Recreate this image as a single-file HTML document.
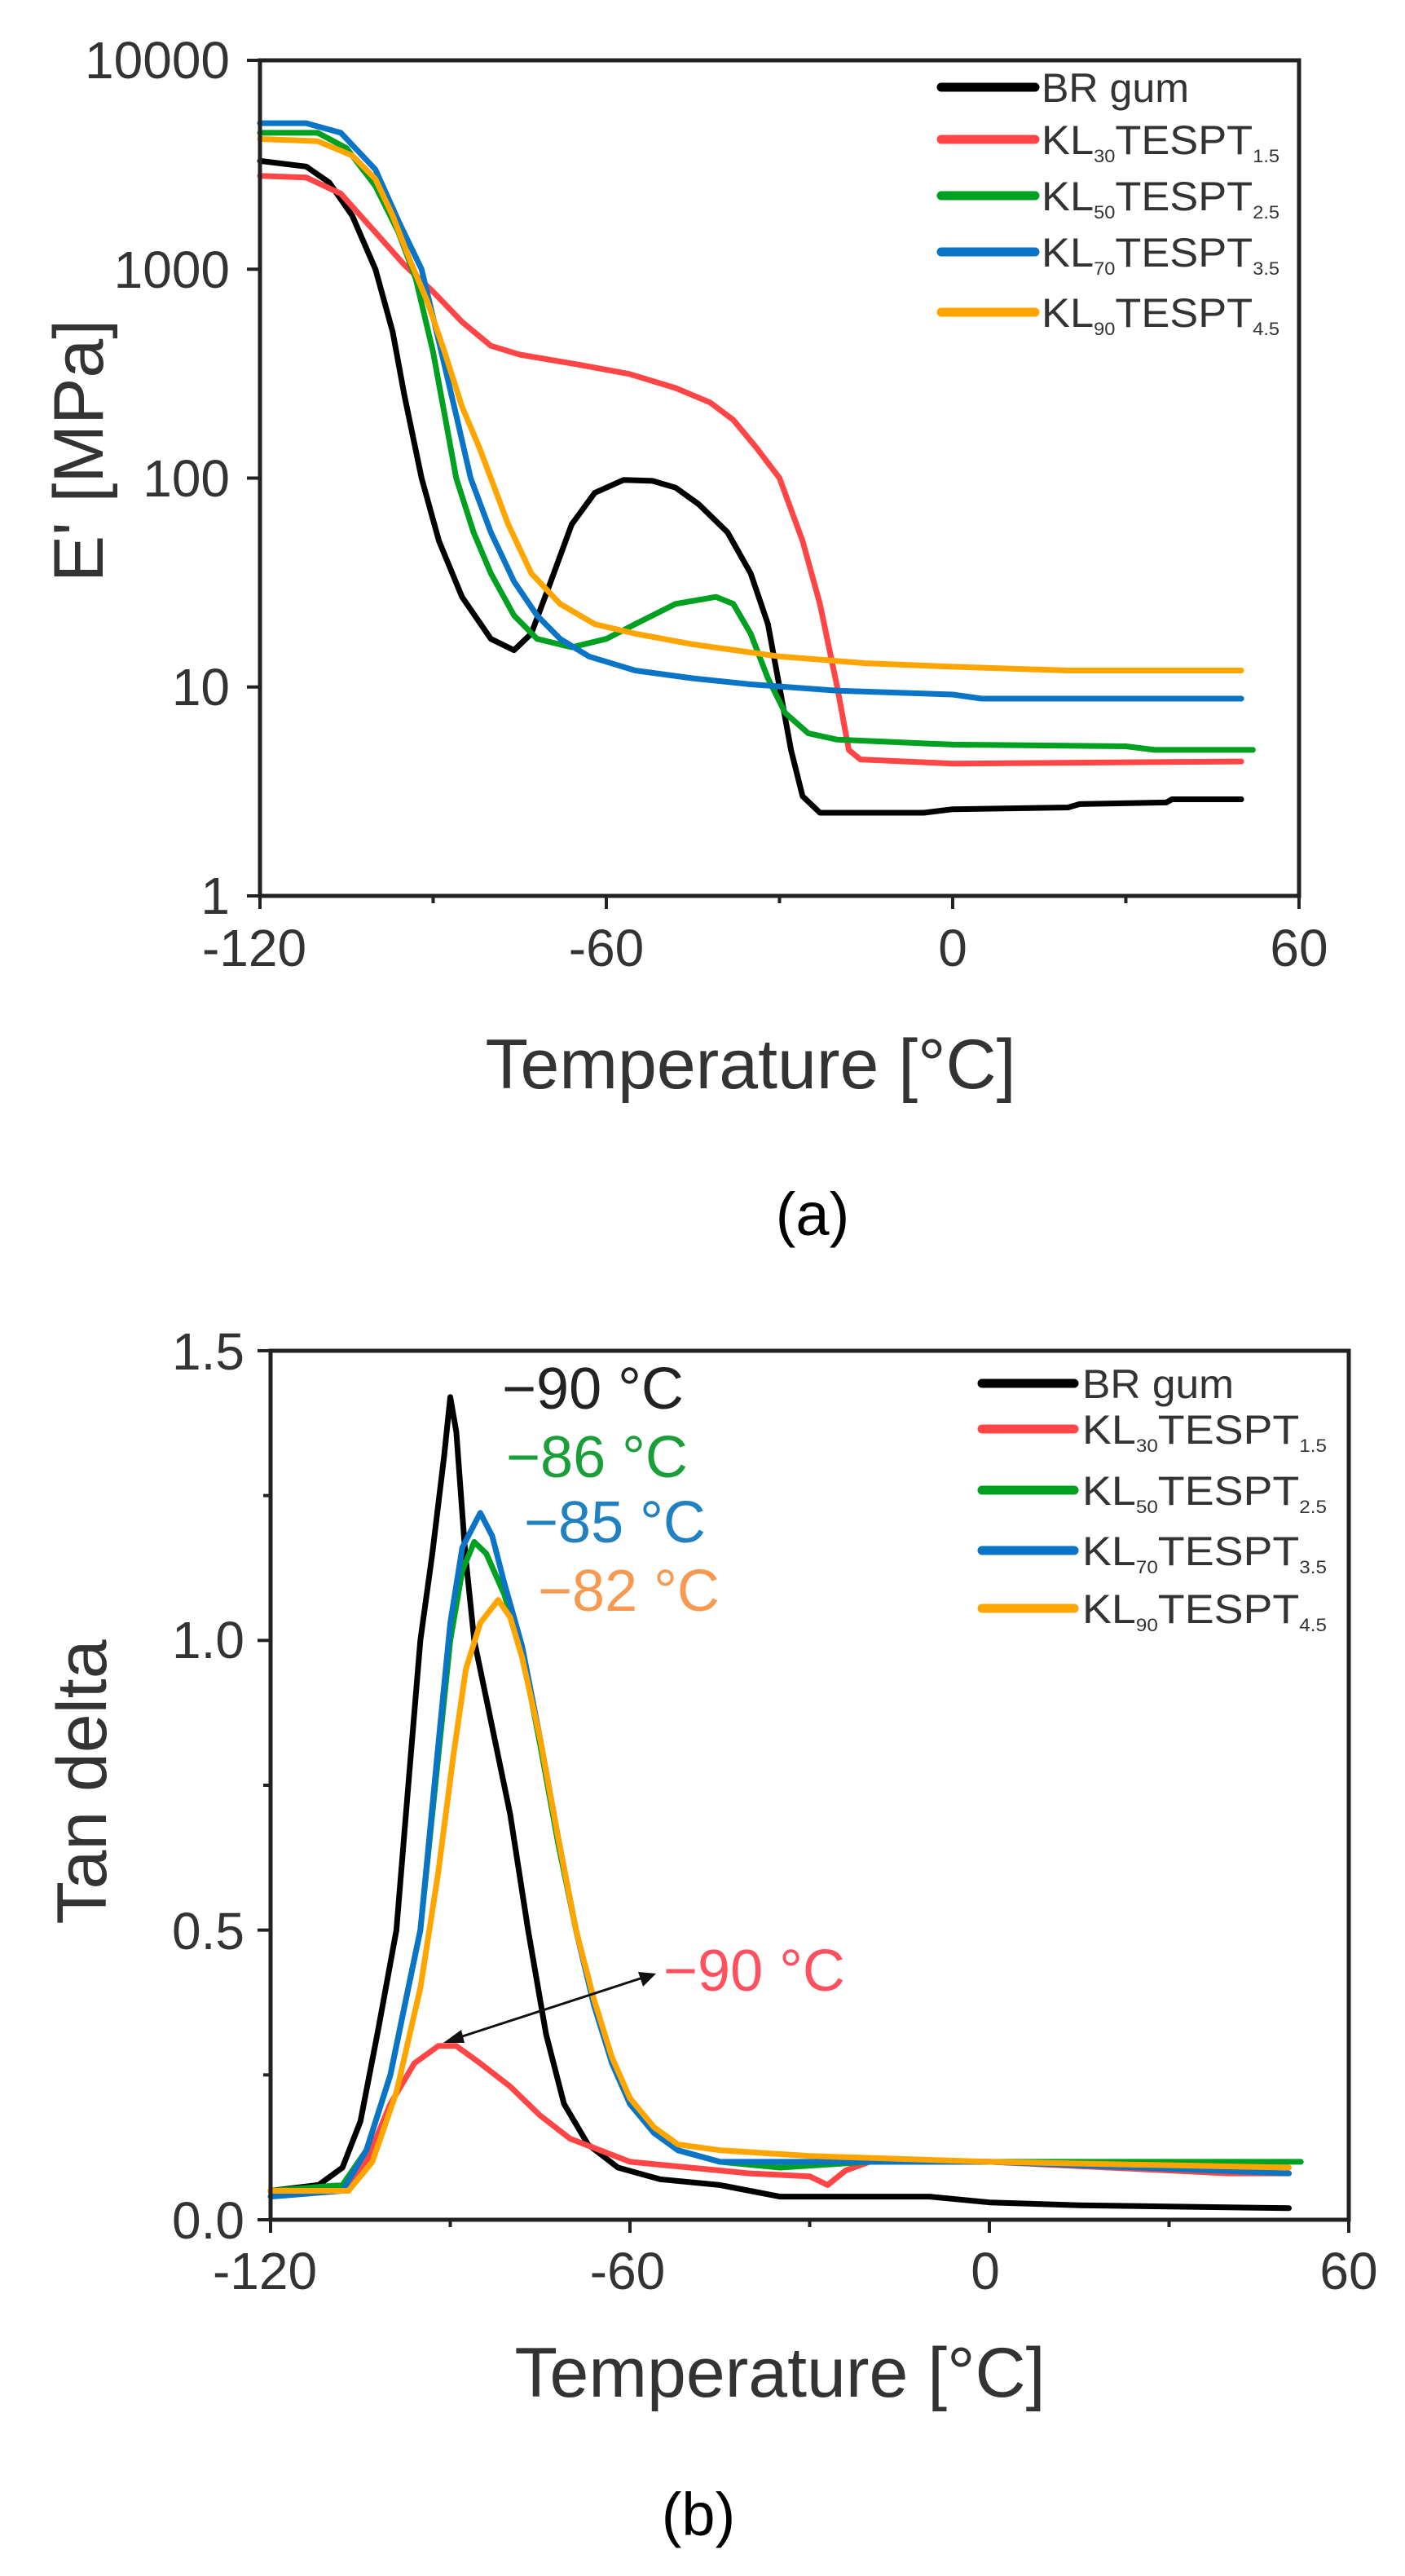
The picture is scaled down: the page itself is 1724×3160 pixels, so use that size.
<!DOCTYPE html>
<html><head><meta charset="utf-8">
<style>
html,body{margin:0;padding:0;background:#fff;}
svg{display:block;}
text{font-family:"Liberation Sans",Arial,sans-serif;}
</style></head>
<body>
<svg id="s" width="1724" height="3160" viewBox="0 0 1724 3160" xmlns="http://www.w3.org/2000/svg">
<rect width="1724" height="3160" fill="#fff"/>
<g id="ga"></g>
<g id="gb"></g>
<rect x="319" y="74" width="1275" height="1025" fill="none" stroke="#222" stroke-width="5"/>
<g fill="#333" font-size="64" text-anchor="end">
<text x="282" y="96">10000</text>
<text x="282" y="353">1000</text>
<text x="282" y="609">100</text>
<text x="282" y="865">10</text>
<text x="282" y="1121">1</text>
</g>
<g fill="#333" font-size="64" text-anchor="middle">
<text x="312" y="1185">-120</text>
<text x="744" y="1185">-60</text>
<text x="1169" y="1185">0</text>
<text x="1594" y="1185">60</text>
</g>
<text x="921" y="1335" font-size="86" fill="#333" text-anchor="middle">Temperature [°C]</text>
<text transform="translate(126,553) rotate(-90)" font-size="86" fill="#333" text-anchor="middle">E' [MPa]</text>
<text x="997" y="1515" font-size="74" font-family="Liberation Serif,serif" text-anchor="middle">(a)</text>

<rect x="332" y="1657" width="1323" height="1066" fill="none" stroke="#222" stroke-width="5"/>
<g fill="#333" font-size="64" text-anchor="end">
<text x="300" y="1680">1.5</text>
<text x="300" y="2034">1.0</text>
<text x="300" y="2391">0.5</text>
<text x="300" y="2746">0.0</text>
</g>
<g fill="#333" font-size="64" text-anchor="middle">
<text x="325" y="2808">-120</text>
<text x="770" y="2808">-60</text>
<text x="1209" y="2808">0</text>
<text x="1655" y="2808">60</text>
</g>
<text x="957" y="2940" font-size="86" fill="#333" text-anchor="middle">Temperature [°C]</text>
<text transform="translate(130,2186) rotate(-90)" font-size="86" fill="#333" text-anchor="middle">Tan delta</text>
<text x="857" y="3110" font-size="74" font-family="Liberation Serif,serif" text-anchor="middle">(b)</text>

<g font-size="72" text-anchor="start">
<text x="616" y="1728" fill="#222">−90 °C</text>
<text x="621" y="1812" fill="#1a9e3a">−86 °C</text>
<text x="643" y="1892" fill="#2080c0">−85 °C</text>
<text x="660" y="1976" fill="#f59a50">−82 °C</text>
<text x="814" y="2442" fill="#ff5060">−90 °C</text>
</g>
<line x1="552" y1="2503" x2="795" y2="2424" stroke="#111" stroke-width="3"/>
<polygon points="544,2506 566,2490 570,2506" fill="#111"/>
<polygon points="805,2421 783,2419 789,2437" fill="#111"/>
</svg>
<script>
var NS="http://www.w3.org/2000/svg";
function path(g,pts,fx,fy,col,w){var d="";for(var i=0;i<pts.length;i+=2){d+=(i?"L":"M")+fx(pts[i]).toFixed(1)+","+fy(pts[i+1]).toFixed(1);}
var p=document.createElementNS(NS,"path");p.setAttribute("d",d);p.setAttribute("fill","none");p.setAttribute("stroke",col);p.setAttribute("stroke-width",w);p.setAttribute("stroke-linejoin","round");p.setAttribute("stroke-linecap","round");g.appendChild(p);}
var ax=function(T){return 319+7.083*(T+120)}, ay=function(E){return 1099-256.25*Math.log10(E)};
var bx=function(T){return 332+7.35*(T+120)}, by=function(v){return 2723-710.7*v};
var C={k:"#000",r:"#ff4545",g:"#00a020",b:"#0a74c6",o:"#ffa500"};
var ga=document.getElementById("ga"), gb=document.getElementById("gb");
var A={
k:[-120,3300,-112,3100,-108,2600,-104,1800,-100,1000,-97,500,-95,250,-92,100,-89,50,-85,27,-80,17,-76,15,-73,18,-70,30,-66,60,-62,85,-57,98,-52,97,-48,90,-44,75,-39,55,-35,35,-32,20,-30,10,-28,5,-26,3,-23,2.5,-5,2.5,0,2.6,20,2.65,22,2.75,37,2.8,38,2.9,50,2.9],
r:[-120,2800,-112,2750,-106,2300,-100,1500,-95,1050,-90,780,-85,560,-80,430,-75,390,-65,350,-56,315,-48,270,-42,230,-38,190,-34,140,-30,100,-26,50,-23,25,-20,10,-18,5,-16,4.5,0,4.3,50,4.4],
g:[-120,4500,-110,4500,-105,3800,-100,2500,-96,1500,-93,900,-90,400,-88,200,-86,100,-83,55,-80,35,-76,22,-72,17,-66,15.5,-60,17,-55,20,-48,25,-41,27,-38,25,-35,18,-32,11,-29,7.5,-25,6,-20,5.6,0,5.3,30,5.2,35,5,52,5],
b:[-120,5000,-112,5000,-106,4500,-100,3000,-96,1700,-92,1000,-89,450,-86,200,-83.5,100,-80,55,-76,32,-72,22,-68,17,-63,14,-55,12,-45,11,-35,10.3,-20,9.6,0,9.2,5,8.8,50,8.8],
o:[-120,4200,-110,4100,-104,3500,-100,2700,-97,1800,-94,1100,-91,700,-88,400,-85,220,-82,140,-80,100,-77,60,-73,35,-68,25,-62,20,-55,18,-45,16,-30,14,-15,13,0,12.5,20,12,50,12]};
["k","r","g","b","o"].forEach(function(k){path(ga,A[k],ax,ay,C[k],7)});
var B={
k:[-120,0.05,-112,0.06,-108,0.09,-105,0.17,-102,0.33,-99,0.5,-97,0.75,-95,1.0,-93,1.15,-91,1.32,-90,1.42,-89,1.36,-87.5,1.15,-86,1.0,-83,0.85,-80,0.7,-77,0.5,-74,0.32,-71,0.2,-67,0.13,-62,0.09,-55,0.07,-45,0.06,-35,0.04,-10,0.04,0,0.03,15,0.025,50,0.02],
r:[-120,0.05,-108,0.05,-104,0.1,-100,0.2,-96,0.27,-92,0.3,-89,0.3,-85,0.27,-80,0.23,-75,0.18,-70,0.14,-65,0.12,-60,0.1,-50,0.09,-40,0.08,-30,0.075,-27,0.06,-24,0.085,-20,0.1,0,0.1,20,0.09,40,0.08,50,0.08],
g:[-120,0.05,-108,0.06,-104,0.12,-100,0.25,-97,0.4,-95,0.5,-92,0.8,-90,1.0,-88,1.12,-86,1.17,-84,1.15,-81,1.08,-78,0.98,-75,0.82,-72,0.65,-69,0.5,-66,0.37,-63,0.27,-60,0.2,-56,0.15,-52,0.12,-45,0.1,-35,0.09,-20,0.1,52,0.1],
b:[-120,0.04,-108,0.05,-104,0.12,-100,0.25,-97,0.4,-95,0.5,-92,0.82,-90,1.03,-88,1.16,-85,1.22,-83,1.18,-81,1.1,-78,0.99,-75,0.83,-72,0.66,-69,0.5,-66,0.37,-63,0.27,-60,0.2,-56,0.15,-52,0.12,-45,0.1,-30,0.1,0,0.1,50,0.08],
o:[-120,0.05,-107,0.05,-103,0.1,-99,0.22,-95,0.4,-92,0.6,-89.5,0.8,-87.4,0.95,-85,1.03,-82,1.07,-80,1.04,-78,0.97,-75,0.83,-72,0.66,-69,0.5,-66,0.38,-63,0.28,-60,0.21,-56,0.16,-52,0.13,-45,0.12,-30,0.11,0,0.1,50,0.09]};
["k","r","g","b","o"].forEach(function(k){path(gb,B[k],bx,by,C[k],7)});
function tick(x1,y1,x2,y2){var l=document.createElementNS(NS,"line");l.setAttribute("x1",x1);l.setAttribute("y1",y1);l.setAttribute("x2",x2);l.setAttribute("y2",y2);l.setAttribute("stroke","#222");l.setAttribute("stroke-width",4);document.getElementById("s").appendChild(l);}
[-120,-90,-60,-30,0,30,60].forEach(function(T){var L=(T%60==0)?16:9;tick(ax(T),1099,ax(T),1099+L);tick(bx(T),2723,bx(T),2723+L);});
[0,1,2,3,4].forEach(function(i){var y=1099-256.25*i;tick(319,y,303,y);});
[0,0.25,0.5,0.75,1,1.25,1.5].forEach(function(v){var L=(v*2%1==0)?16:9;tick(332,by(v),332-L,by(v));});
function legend(x1,x2,tx,ys,fs,tl){var s=document.getElementById("s");var names=[["BR gum"],["KL","30","TESPT","1.5"],["KL","50","TESPT","2.5"],["KL","70","TESPT","3.5"],["KL","90","TESPT","4.5"]];var cols=[C.k,C.r,C.g,C.b,C.o];
for(var i=0;i<5;i++){var l=document.createElementNS(NS,"line");l.setAttribute("x1",x1);l.setAttribute("x2",x2);l.setAttribute("y1",ys[i]);l.setAttribute("y2",ys[i]);l.setAttribute("stroke",cols[i]);l.setAttribute("stroke-width",11);l.setAttribute("stroke-linecap","round");s.appendChild(l);
var t=document.createElementNS(NS,"text");t.setAttribute("x",tx);t.setAttribute("y",ys[i]+18);t.setAttribute("font-size",fs);t.setAttribute("fill","#333");
var n=names[i];if(n.length==1){t.textContent=n[0];t.setAttribute("textLength",tl*0.62);t.setAttribute("lengthAdjust","spacingAndGlyphs");}
else{var parts=[[n[0],0,fs],[n[1],10,fs*0.45],[n[2],-10,fs],[n[3],10,fs*0.45]];parts.forEach(function(p){var sp=document.createElementNS(NS,"tspan");sp.setAttribute("dy",p[1]);sp.setAttribute("font-size",p[2]);sp.textContent=p[0];t.appendChild(sp);});
t.setAttribute("textLength",tl);t.setAttribute("lengthAdjust","spacingAndGlyphs");}
s.appendChild(t);}}
legend(1155,1270,1278,[107,171,240,309,383],50,292);
legend(1205,1318,1328,[1697,1753,1828,1902,1973],50,300);
</script>
</body></html>
